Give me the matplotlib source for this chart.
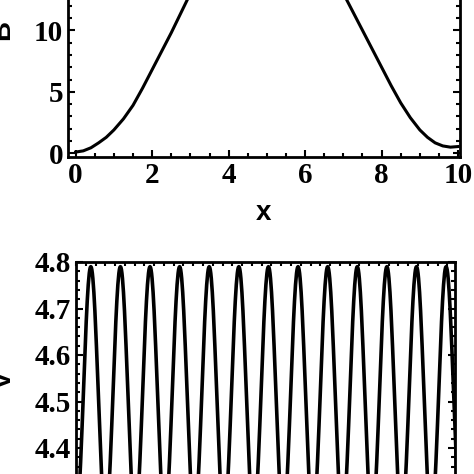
import numpy as np
import matplotlib.pyplot as plt

# top panel: B(x) (peak region is cut off in the reference)
x_pts = [0, 0.2, 0.4, 0.6, 0.8, 1.0, 1.25, 1.5, 1.75, 2.0, 2.25, 2.5, 2.75, 3.0,
         3.5, 4.0, 4.5, 5.0, 5.5, 6.0, 6.5, 7.0, 7.25, 7.5, 7.75, 8.0, 8.25,
         8.5, 8.75, 9.0, 9.2, 9.4, 9.6, 9.8, 10.0]
b_pts = [0.1, 0.2, 0.45, 0.85, 1.3, 1.9, 2.8, 3.9, 5.3, 6.8, 8.3, 9.8, 11.4, 13.0,
         15.8, 18.0, 19.3, 19.7, 19.3, 18.0, 15.8, 13.0, 11.5, 10.0, 8.5, 7.0, 5.5,
         4.1, 2.9, 1.9, 1.3, 0.85, 0.6, 0.5, 0.55]

# bottom panel: extrema of V (alternating trough / peak, one period per unit)
t_ext = [0.0, 0.5, 1.0, 1.5, 2.0, 2.5, 3.0, 3.5, 4.0, 4.5, 5.0, 5.5, 6.0, 6.5,
         7.0, 7.5, 8.0, 8.5, 9.0, 9.5, 10.0, 10.5, 11.0, 11.5, 12.0, 12.5, 13.0]
v_ext = [4.25, 4.79, 4.25, 4.79, 4.25, 4.79, 4.25, 4.79, 4.25, 4.79, 4.25, 4.79,
         4.25, 4.79, 4.25, 4.79, 4.25, 4.79, 4.25, 4.79, 4.25, 4.79, 4.25, 4.79,
         4.25, 4.79, 4.25]

# smooth half-cosine between consecutive extrema
t_line, v_line = [], []
for i in range(len(t_ext) - 1):
    s = np.linspace(0, 1, 30)
    t_line.extend(t_ext[i] + s * (t_ext[i + 1] - t_ext[i]))
    v_line.extend(v_ext[i] + (1 - np.cos(np.pi * s)) / 2 * (v_ext[i + 1] - v_ext[i]))

plt.rcParams['font.family'] = 'Liberation Serif'
plt.rcParams['font.weight'] = 'bold'

W = 474.0
fig = plt.figure(figsize=(4.74, 4.74), dpi=100)

# top axes: left 68, right 460, bottom 157 px; 12.3 px per unit of B
ylo, yhi = -0.3, 20.5
h = (yhi - ylo) * 12.3
ax1 = fig.add_axes([68 / W, 1 - 157 / W, 392 / W, h / W])
ax1.plot(x_pts, b_pts, color='black', lw=2.2)
ax1.set_xlim(-0.2, 10.05)
ax1.set_ylim(ylo, yhi)
ax1.set_xticks([0, 2, 4, 6, 8, 10])
ax1.set_yticks([0, 5, 10])
ax1.set_xlabel('x', family='Liberation Sans', fontsize=20, fontweight='bold', labelpad=8)
ax1.set_ylabel('B', family='Liberation Sans', fontsize=20, fontweight='bold')
ax1.yaxis.set_label_coords(-0.135, (157 - 30) / h)

# bottom axes: left 76, right 455, top 262 px; 465 px per unit of V
vlo, vhi = 4.2, 4.8
h2 = (vhi - vlo) * 465
ax2 = fig.add_axes([76 / W, 1 - (262 + h2) / W, 379 / W, h2 / W])
ax2.plot(t_line, v_line, color='black', lw=2.6)
ax2.set_xlim(0, 12.8)
ax2.set_ylim(vlo, vhi)
ax2.set_yticks([4.2, 4.3, 4.4, 4.5, 4.6, 4.7, 4.8])
ax2.set_xticks([])
ax2.set_ylabel('V', family='Liberation Sans', fontsize=20, fontweight='bold')
ax2.yaxis.set_label_coords(-0.155, 1 - (380 - 262) / h2)

for ax in (ax1, ax2):
    ax.minorticks_on()
    ax.tick_params(which='both', direction='in', top=True, right=True, labelsize=21, width=1.5)
    ax.tick_params(which='major', length=5)
    ax.tick_params(which='minor', length=3)
    for sp in ax.spines.values():
        sp.set_linewidth(2)
ax2.tick_params(axis='x', which='minor', bottom=False)
ax2.xaxis.set_minor_locator(plt.MultipleLocator(0.33))

fig.savefig('out.png', dpi=100)
